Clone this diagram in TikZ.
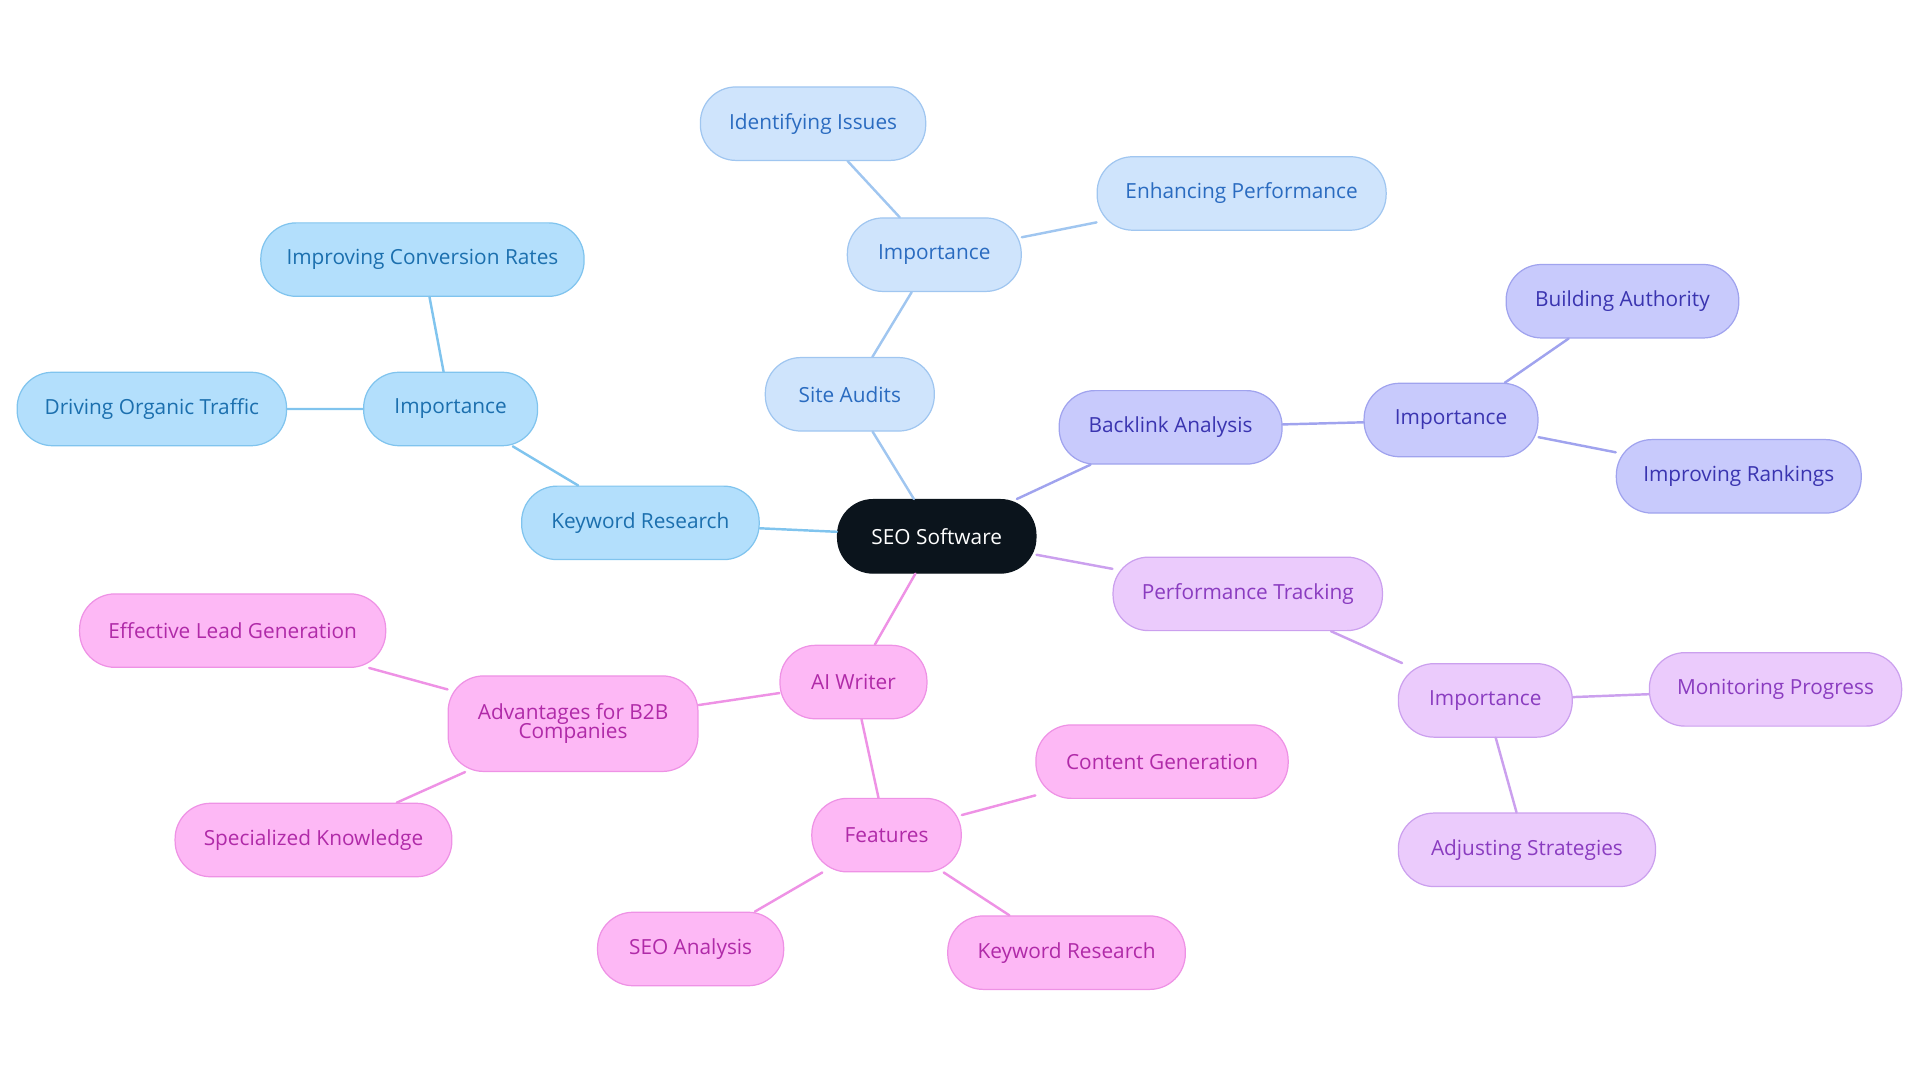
\documentclass[tikz,border=0pt]{standalone}
\usepackage{fontspec}
\setmainfont{Open Sans}
\definecolor{kbfill}{HTML}{B3DFFC}\definecolor{kbdraw}{HTML}{80C4EE}\definecolor{kbtext}{HTML}{1B6FAE}
\definecolor{safill}{HTML}{CFE4FC}\definecolor{sadraw}{HTML}{A0C6F0}\definecolor{satext}{HTML}{2A6BC0}
\definecolor{bafill}{HTML}{C8CAFC}\definecolor{badraw}{HTML}{A0A3EE}\definecolor{batext}{HTML}{3A34B0}
\definecolor{ptfill}{HTML}{EBCBFC}\definecolor{ptdraw}{HTML}{CBA0EE}\definecolor{pttext}{HTML}{8A3CC0}
\definecolor{aifill}{HTML}{FDB8F5}\definecolor{aidraw}{HTML}{EE92E5}\definecolor{aitext}{HTML}{B02AA8}
\definecolor{rootfill}{HTML}{0B141C}
\tikzset{
  box/.style={rounded corners=29pt,minimum height=60pt,line width=1pt,align=center,
    font=\fontsize{17}{19}\selectfont,inner xsep=8pt},
  kb/.style={box,fill=kbfill,draw=kbdraw,text=kbtext},
  sa/.style={box,fill=safill,draw=sadraw,text=satext},
  ba/.style={box,fill=bafill,draw=badraw,text=batext},
  pt/.style={box,fill=ptfill,draw=ptdraw,text=pttext},
  ai/.style={box,fill=aifill,draw=aidraw,text=aitext},
  link/.style={line width=2pt}
}
\begin{document}
\begin{tikzpicture}[x=1pt,y=-1pt,line cap=round,line join=round]
\useasboundingbox (0,0) rectangle (1568,884);
% links first
\begin{scope}[on background layer/.style={}]
\end{scope}
% root
\node[box,fill=rootfill,text=white,draw=rootfill,minimum width=162pt] (root) at (765,438) {SEO Software};
% keyword research branch
\node[kb,minimum width=194pt] (kr) at (523,427) {Keyword Research};
\node[kb,minimum width=142pt] (krimp) at (368,334) {Importance};
\node[kb,minimum width=264pt] (krict) at (345,212) {Improving Conversion Rates};
\node[kb,minimum width=220pt] (krdot) at (124,334) {Driving Organic Traffic};
% site audits branch
\node[sa,minimum width=138pt] (sa) at (694,322) {Site Audits};
\node[sa,minimum width=142pt] (saimp) at (763,208) {Importance};
\node[sa,minimum width=184pt] (saii) at (664,101) {Identifying Issues};
\node[sa,minimum width=236pt] (saep) at (1014,158) {Enhancing Performance};
% backlink branch
\node[ba,minimum width=182pt] (ba) at (956,349) {Backlink Analysis};
\node[ba,minimum width=142pt] (baimp) at (1185,343) {Importance};
\node[ba,minimum width=190pt] (baba) at (1325,246) {Building Authority};
\node[ba,minimum width=200pt] (bair) at (1420,389) {Improving Rankings};
% performance tracking branch
\node[pt,minimum width=220pt] (pt) at (1019,485) {Performance Tracking};
\node[pt,minimum width=142pt] (ptimp) at (1213,572) {Importance};
\node[pt,minimum width=206pt] (ptmp) at (1450,563) {Monitoring Progress};
\node[pt,minimum width=210pt] (ptas) at (1247,694) {Adjusting Strategies};
% ai writer branch
\node[ai,minimum width=120pt] (ai) at (697,557) {AI Writer};
\node[ai,minimum width=204pt,minimum height=78pt] (aiadv) at (468,591) {Advantages for B2B\\[-4pt]Companies};
\node[ai,minimum width=250pt] (aielg) at (190,515) {Effective Lead Generation};
\node[ai,minimum width=226pt] (aisk) at (256,686) {Specialized Knowledge};
\node[ai,minimum width=122pt] (aifeat) at (724,682) {Features};
\node[ai,minimum width=206pt] (aicg) at (949,622) {Content Generation};
\node[ai,minimum width=152pt] (aiseo) at (564,775) {SEO Analysis};
\node[ai,minimum width=194pt] (aikr) at (871,778) {Keyword Research};
% connectors
\draw[link,kbdraw] (root) -- (kr) (kr) -- (krimp) (krimp) -- (krict) (krimp) -- (krdot);
\draw[link,sadraw] (root) -- (sa) (sa) -- (saimp) (saimp) -- (saii) (saimp) -- (saep);
\draw[link,badraw] (root) -- (ba) (ba) -- (baimp) (baimp) -- (baba) (baimp) -- (bair);
\draw[link,ptdraw] (root) -- (pt) (pt) -- (ptimp) (ptimp) -- (ptmp) (ptimp) -- (ptas);
\draw[link,aidraw] (root) -- (ai) (ai) -- (aiadv) (aiadv) -- (aielg) (aiadv) -- (aisk)
  (ai) -- (aifeat) (aifeat) -- (aicg) (aifeat) -- (aiseo) (aifeat) -- (aikr);
\end{tikzpicture}
\end{document}
